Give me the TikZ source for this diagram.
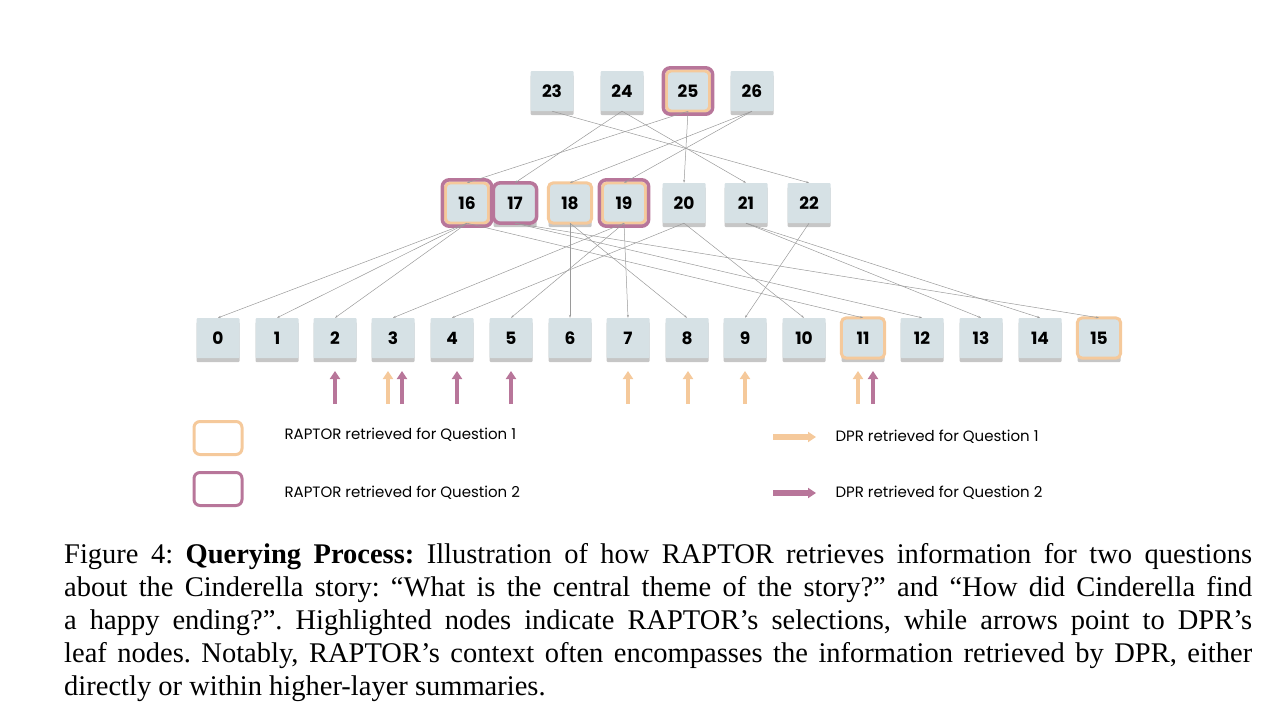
\documentclass[tikz,border=0pt]{standalone}
\usepackage{fontspec}
\setmainfont{Liberation Serif}
\newfontfamily\boxfont{Poppins}
\usetikzlibrary{shadows,fit,arrows.meta}
\definecolor{boxfill}{HTML}{D6E1E5}
\definecolor{qone}{HTML}{F5C99B}
\definecolor{qtwo}{HTML}{B8769A}
\definecolor{edgegray}{HTML}{9A9A9A}
\tikzset{
  tn/.style={rectangle, rounded corners=1pt, fill=boxfill, minimum width=43pt, minimum height=40pt,
    font=\boxfont\bfseries\fontsize{17}{17}\selectfont,
    drop shadow={shadow xshift=0pt, shadow yshift=-4pt, fill=black!50, opacity=0.45}},
  r1/.style={draw=qone, line width=3pt, rounded corners=5pt},
  r2/.style={draw=qtwo, line width=3.5pt, rounded corners=7pt, inner sep=3pt},
  lnk/.style={draw=edgegray, line width=0.5pt, -{Stealth[length=3pt,width=2pt]}},
  dpr/.style={line width=3.5pt, -{Triangle[width=10pt,length=8pt]}},
  leg/.style={font=\boxfont\fontsize{15}{15}\selectfont, anchor=west}
}
\begin{document}
\begin{tikzpicture}[x=1pt,y=-1pt]
\useasboundingbox (0,0) rectangle (1273,720);
% leaves
\foreach \i/\x in {0/218,1/277,2/335,3/393,4/452,5/511,6/570,7/628,8/687,9/745,10/804,11/863,12/922,13/981,14/1040,15/1099}
  \node[tn] (n\i) at (\x,338) {\i};
\foreach \i/\x in {16/467,17/515,18/570,19/624,20/684,21/746,22/809}
  \node[tn] (n\i) at (\x,203) {\i};
\foreach \i/\x in {23/552,24/622,25/688,26/752}
  \node[tn] (n\i) at (\x,91) {\i};
% highlights
\foreach \i in {11,15,16,18,19,25}
  \node[r1, fit=(n\i), inner sep=0pt] {};
\foreach \i in {16,19,25}
  \node[r2, fit=(n\i)] {};
\node[r2, fit=(n17), inner sep=0pt] {};
% links
\foreach \a/\b in {23/22,24/17,24/21,25/16,25/20,26/18,26/19,
  16/0,16/1,16/2,16/11,17/12,17/15,18/6,18/8,19/3,19/5,19/7,20/4,20/10,21/13,21/14,22/9}
  \draw[lnk] (n\a.south) -- (n\b.north);
% DPR arrows
\foreach \x in {335,402,457,511,873}
  \draw[dpr, qtwo] (\x,404) -- (\x,371);
\foreach \x in {388,628,688,745,858}
  \draw[dpr, qone] (\x,404) -- (\x,371);
% legend
\node[r1, minimum width=48pt, minimum height=33pt, line width=3pt, rounded corners=6pt] (l1) at (218,438) {};
\node[r2, minimum width=48pt, minimum height=33pt, line width=3pt, rounded corners=6pt, inner sep=0pt] (l2) at (218,489) {};
\node[leg] (t1) at (281,435) {RAPTOR retrieved for Question 1};
\node[leg] (t2) at (281,493) {RAPTOR retrieved for Question 2};
\draw[dpr, qone, line width=6pt] (773,437) -- (816,437);
\draw[dpr, qtwo, line width=6pt] (773,493) -- (816,493);
\node[leg] (t3) at (832,437) {DPR retrieved for Question 1};
\node[leg] (t4) at (832,493) {DPR retrieved for Question 2};
% caption
\node[anchor=north west, text width=1188pt, align=justify, inner sep=0pt,
  font=\fontsize{28.5}{33}\selectfont\frenchspacing] (cap) at (64,543)
  {Figure 4: \textbf{Querying Process:} Illustration of how RAPTOR retrieves information for two questions\linebreak about the Cinderella story: ``What is the central theme of the story?'' and ``How did Cinderella find\linebreak a happy ending?''. Highlighted nodes indicate RAPTOR's selections, while arrows point to DPR's\linebreak leaf nodes. Notably, RAPTOR's context often encompasses the information retrieved by DPR, either\linebreak directly or within higher-layer summaries.};
\end{tikzpicture}
\end{document}
